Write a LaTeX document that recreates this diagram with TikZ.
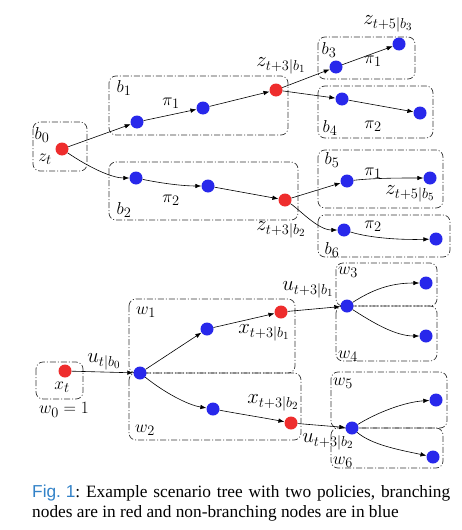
\documentclass[tikz,border=0pt]{standalone}
\usepackage{fontspec}
\newfontfamily\capserif{Liberation Serif}
\newfontfamily\capsans{Liberation Sans}
\usetikzlibrary{arrows.meta}
\definecolor{nodered}{RGB}{238,45,45}
\definecolor{nodeblue}{RGB}{40,40,235}
\definecolor{figblue}{RGB}{50,130,200}
\definecolor{boxgray}{RGB}{55,55,55}
\tikzset{
  dot/.style={circle, inner sep=0pt, minimum size=13pt},
  rdot/.style={dot, fill=nodered},
  bdot/.style={dot, fill=nodeblue},
  grp/.style={draw=boxgray, line width=0.7pt, dash pattern=on 6pt off 2pt on 1pt off 2pt, rounded corners=7pt},
  edge/.style={-{Latex[length=6pt,width=4.5pt]}, line width=0.6pt},
  lbl/.style={font=\fontsize{19}{22}\selectfont, inner sep=0pt},
  slbl/.style={font=\fontsize{21}{24}\selectfont, inner sep=0pt},
}
\begin{document}
\begin{tikzpicture}[x=1pt,y=-1pt]
\useasboundingbox[fill=white] (0,0) rectangle (461,530);
% ---------- top tree: boxes
\draw[grp] (33,122) rectangle (87,171);
\draw[grp] (109,76) rectangle (288,135);
\draw[grp] (109,162) rectangle (298,220);
\draw[grp] (318,37) rectangle (415,79);
\draw[grp] (318,86) rectangle (433,138);
\draw[grp] (318,150) rectangle (443,208);
\draw[grp] (318,215) rectangle (450,257);
% nodes
\node[rdot] (zt) at (62,149) {};
\node[bdot] (b1a) at (137,122) {};
\node[bdot] (b1b) at (203,108) {};
\node[rdot] (r1) at (276,90) {};
\node[bdot] (b2a) at (136,178) {};
\node[bdot] (b2b) at (208,186) {};
\node[rdot] (r2) at (285,200) {};
\node[bdot] (b3a) at (336,67) {};
\node[bdot] (b3b) at (399,44) {};
\node[bdot] (b4a) at (342,99) {};
\node[bdot] (b4b) at (420,113) {};
\node[bdot] (b5a) at (347,181) {};
\node[bdot] (b5b) at (430,178) {};
\node[bdot] (b6a) at (344,230) {};
\node[bdot] (b6b) at (436,239) {};
% edges
\draw[edge] (zt) -- (b1a);
\draw[edge] (zt) .. controls (90,168) and (112,178) .. (b2a);
\draw[edge] (b1a) -- (b1b);
\draw[edge] (b1b) -- (r1);
\draw[edge] (b2a) .. controls (165,184) and (185,186) .. (b2b);
\draw[edge] (b2b) -- (r2);
\draw[edge] (r1) -- (b3a);
\draw[edge] (b3a) -- (b3b);
\draw[edge] (r1) -- (b4a);
\draw[edge] (b4a) -- (b4b);
\draw[edge] (r2) -- (b5a);
\draw[edge] (b5a) .. controls (375,178) and (400,178) .. (b5b);
\draw[edge] (r2) .. controls (300,210) and (318,230) .. (b6a);
\draw[edge] (b6a) .. controls (370,238) and (400,240) .. (b6b);
% labels
\node[lbl] (lb0) at (42,135) {$b_0$};
\node[lbl] (lzt) at (45,159) {$z_t$};
\node[lbl] (lb1) at (124,88) {$b_1$};
\node[lbl] (lp1) at (171,103) {$\pi_1$};
\node[lbl] (lb2) at (124,210) {$b_2$};
\node[lbl] (lp2) at (171,200) {$\pi_2$};
\node[slbl] (lz1) at (281,66) {$z_{t+3|b_1}$};
\node[slbl] (lz2) at (281,230) {$z_{t+3|b_2}$};
\node[lbl] (lb3) at (329,50) {$b_3$};
\node[lbl] (lp13) at (373,61) {$\pi_1$};
\node[slbl] (lz3) at (388,24) {$z_{t+5|b_3}$};
\node[lbl] (lb4) at (330,128) {$b_4$};
\node[lbl] (lp24) at (373,126) {$\pi_2$};
\node[lbl] (lb5) at (332,160) {$b_5$};
\node[lbl] (lp15) at (373,173) {$\pi_1$};
\node[slbl] (lz5) at (410,194) {$z_{t+5|b_5}$};
\node[lbl] (lb6) at (332,250) {$b_6$};
\node[lbl] (lp26) at (373,226) {$\pi_2$};
% ---------- bottom tree: boxes
\draw[grp] (36,362) rectangle (83,399);
\draw[grp] (129,299) rectangle (295,373);
\draw[grp] (129,373) rectangle (301,440);
\draw[grp] (336,263) rectangle (437,306);
\draw[grp] (336,306) rectangle (437,361);
\draw[grp] (331,372) rectangle (447,428);
\draw[grp] (331,428) rectangle (443,468);
% nodes
\node[rdot] (xt) at (65,371) {};
\node[bdot] (R) at (140,373) {};
\node[bdot] (w1a) at (207,329) {};
\node[rdot] (r3) at (281,312) {};
\node[bdot] (w2a) at (213,409) {};
\node[rdot] (r4) at (291,423) {};
\node[bdot] (s1) at (347,306) {};
\node[bdot] (s1a) at (426,283) {};
\node[bdot] (s1b) at (426,336) {};
\node[bdot] (s2) at (352,428) {};
\node[bdot] (s2a) at (436,400) {};
\node[bdot] (s2b) at (433,457) {};
% edges
\draw[edge] (xt) -- (R);
\draw[edge] (R) -- (w1a);
\draw[edge] (w1a) -- (r3);
\draw[edge] (R) .. controls (165,393) and (188,405) .. (w2a);
\draw[edge] (w2a) .. controls (240,414) and (265,418) .. (r4);
\draw[edge] (r3) -- (s1);
\draw[edge] (r4) -- (s2);
\draw[edge] (s1) .. controls (372,290) and (390,283) .. (s1a);
\draw[edge] (s1) .. controls (372,322) and (395,336) .. (s1b);
\draw[edge] (s2) .. controls (378,412) and (405,402) .. (s2a);
\draw[edge] (s2) .. controls (372,445) and (400,450) .. (s2b);
% labels
\node[lbl] (lxt) at (62,387) {$x_t$};
\node[lbl] (lw0) at (64,410) {$w_0=1$};
\node[slbl] (lu0) at (104,362) {$u_{t|b_0}$};
\node[lbl] (lw1) at (146,312) {$w_1$};
\node[lbl] (lw2) at (145,430) {$w_2$};
\node[slbl] (lx1) at (264,333) {$x_{t+3|b_1}$};
\node[slbl] (lx2) at (273,403) {$x_{t+3|b_2}$};
\node[slbl] (lu1) at (308,290) {$u_{t+3|b_1}$};
\node[slbl] (lu2) at (328,442) {$u_{t+3|b_2}$};
\node[lbl] (lw3) at (348,272) {$w_3$};
\node[lbl] (lw4) at (348,356) {$w_4$};
\node[lbl] (lw5) at (343,383) {$w_5$};
\node[lbl] (lw6) at (343,462) {$w_6$};
% ---------- caption
\node[anchor=north west, inner sep=0pt, text width=418pt, align=justify,
      font=\capserif\fontsize{17.3}{20}\selectfont\frenchspacing] (cap) at (32,485)
  {\mbox{\capsans\color{figblue}Fig. 1}: Example scenario tree with two policies, branching\linebreak
   nodes are in red and non-branching nodes are in blue};
\end{tikzpicture}
\end{document}
